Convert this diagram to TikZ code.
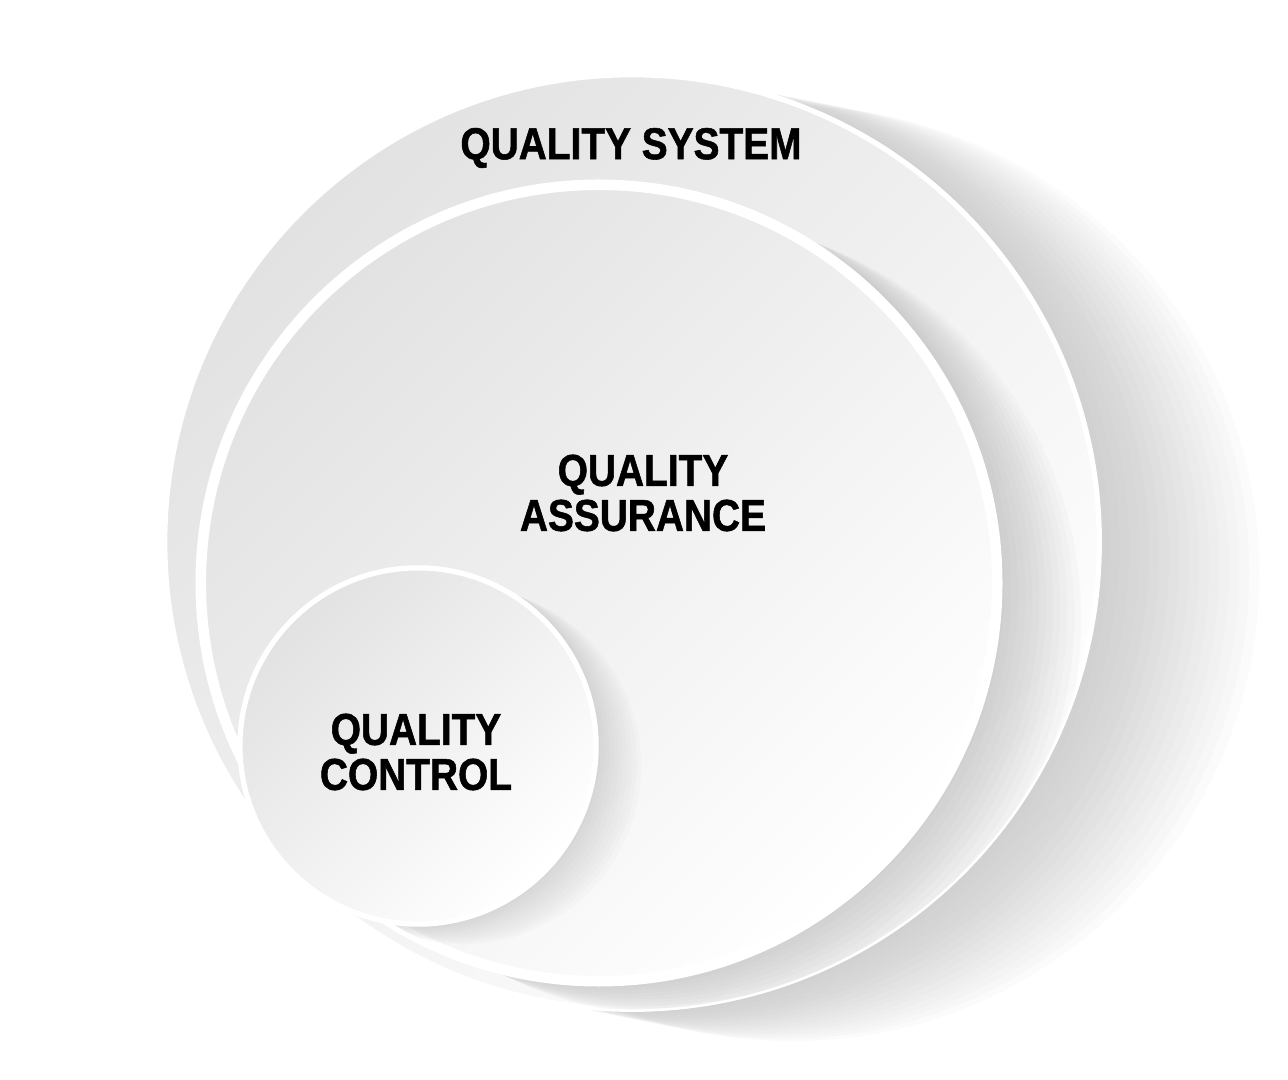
\documentclass[tikz,border=0pt]{standalone}
\usepackage{fontspec}
\newfontfamily\labelfont[FakeStretch=0.87,FakeBold=1.2]{Liberation Sans Bold}
\usetikzlibrary{calc}
\definecolor{discgray}{HTML}{E2E2E2}
\definecolor{shadowgray}{HTML}{9A9A9A}

\begin{document}
\begin{tikzpicture}[x=0.01cm, y=-0.01cm,
  disc/.style = {circle, inner sep=0pt, outer sep=0pt,
    draw=white, top color=discgray, bottom color=white,
    shading angle=45},
  disclabel/.style = {align=center, text=black,
    font=\labelfont\fontsize{12.7}{12.8}\selectfont}]
  \path[fill=white, use as bounding box] (0,0) rectangle (1288,1080);
  \coordinate (qs-c) at (632,542);
  \coordinate (qa-c) at (599,583);
  \coordinate (qc-c) at (418,746);
  % soft shadow behind the outer disc
  \foreach \i in {1,...,16}
    \fill[shadowgray, opacity=0.03] ($(qs-c)+(\i*10,\i*2)$) circle[radius=4.67cm];
  \node[disc, line width=1.5pt, minimum size=9.34cm] (qs) at (qs-c) {};
  % shadow of the middle disc, kept on the outer disc
  \begin{scope}
    \clip (qs-c) circle[radius=4.67cm];
    \foreach \i in {1,...,12}
      \fill[shadowgray, opacity=0.045] ($(qa-c)+(\i*7,\i*3)$) circle[radius=3.98cm];
  \end{scope}
  \node[disc, line width=3pt, minimum size=7.96cm] (qa) at (qa-c) {};
  % shadow of the small disc
  \begin{scope}
    \clip (qa-c) circle[radius=3.98cm];
    \foreach \i in {1,...,10}
      \fill[shadowgray, opacity=0.035] ($(qc-c)+(\i*4.5,\i*2)$) circle[radius=1.78cm];
  \end{scope}
  \node[disc, line width=1.5pt, minimum size=3.56cm] (qc) at (qc-c) {};
  \node[disclabel] (qs-label) at (631,148) {QUALITY SYSTEM};
  \node[disclabel] (qa-label) at (643,493) {QUALITY\\ASSURANCE};
  \node[disclabel] (qc-label) at (416,752) {QUALITY\\CONTROL};
\end{tikzpicture}
\end{document}
